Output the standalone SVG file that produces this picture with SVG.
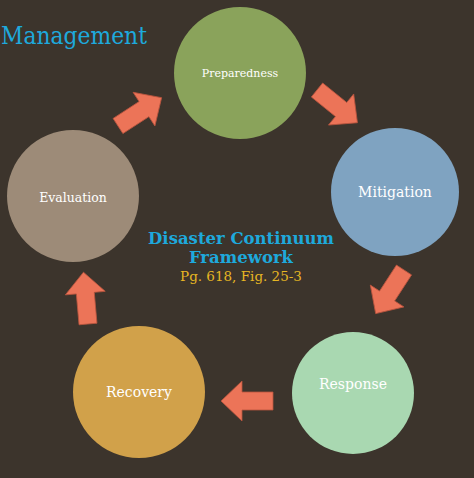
<svg xmlns="http://www.w3.org/2000/svg" width="474" height="478" viewBox="0 0 474 478">
<defs>
<style>
.lbl{font-family:"DejaVu Serif","Liberation Serif",serif;fill:#ffffff;text-anchor:middle}
.arrow{fill:#ec7458;stroke:#b8543e;stroke-width:0.8}
.ctr{font-family:"DejaVu Serif","Liberation Serif",serif;text-anchor:middle}
</style>
<path id="arr" d="M0,-9 L31,-9 L31,-20 L52,0 L31,20 L31,9 L0,9 Z"/>
</defs>
<rect width="474" height="478" fill="#3c342c"/>
<text x="1" y="44" font-family="DejaVu Serif,Liberation Serif,serif" font-size="25" fill="#1ea9dc" textLength="146" lengthAdjust="spacingAndGlyphs">Management</text>
<g id="connectors">
<use href="#arr" class="arrow" transform="translate(118,126) rotate(-33)"/>
<use href="#arr" class="arrow" transform="translate(317,90) rotate(39)"/>
<use href="#arr" class="arrow" transform="translate(404,270) rotate(123)"/>
<use href="#arr" class="arrow" transform="translate(273,401) rotate(180)"/>
<use href="#arr" class="arrow" transform="translate(88,324) rotate(-95)"/>
</g>
<g id="preparedness">
<circle cx="240" cy="73" r="66" fill="#8aa35b"/>
<text class="lbl" x="240" y="77" font-size="11">Preparedness</text>
</g>
<g id="mitigation">
<circle cx="395" cy="192" r="64" fill="#7fa3c1"/>
<text class="lbl" x="395" y="197" font-size="14">Mitigation</text>
</g>
<g id="response">
<circle cx="353" cy="393" r="61" fill="#a9d8b1"/>
<text class="lbl" x="353" y="389" font-size="14">Response</text>
</g>
<g id="recovery">
<circle cx="139" cy="392" r="66" fill="#d1a14a"/>
<text class="lbl" x="139" y="397" font-size="14">Recovery</text>
</g>
<g id="evaluation">
<circle cx="73" cy="196" r="66" fill="#9d8b78"/>
<text class="lbl" x="73" y="202" font-size="12.5">Evaluation</text>
</g>
<g id="title">
<text class="ctr" x="241" y="244" font-size="16.5" font-weight="bold" fill="#1ea9dc">Disaster Continuum</text>
<text class="ctr" x="241" y="263" font-size="16.5" font-weight="bold" fill="#1ea9dc">Framework</text>
<text class="ctr" x="241" y="281" font-size="13.5" fill="#e7b723">Pg. 618, Fig. 25-3</text>
</g>
</svg>
